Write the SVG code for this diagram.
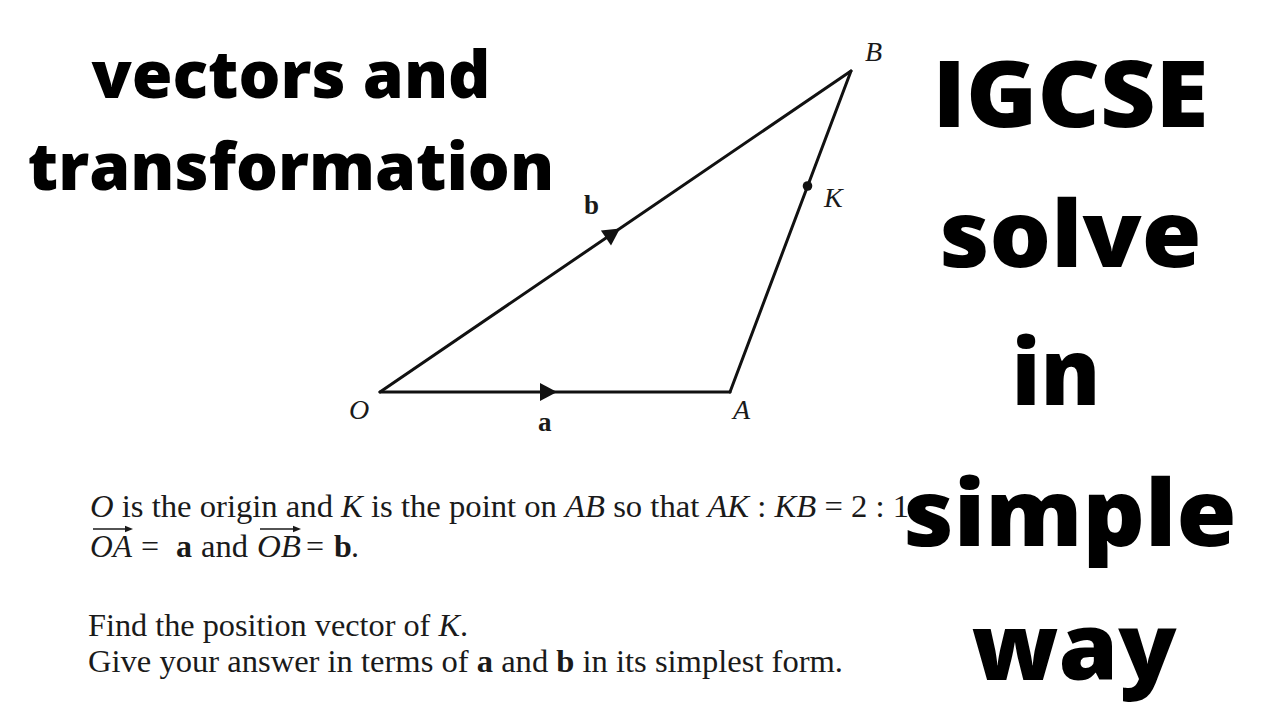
<svg xmlns="http://www.w3.org/2000/svg" xmlns:xlink="http://www.w3.org/1999/xlink" width="1280" height="720" viewBox="0 0 1280 720">
  <style>
    .title { font-family: "Open Sans", "Noto Sans", sans-serif; font-weight: 800; fill: #000; text-anchor: middle; }
    .big { font-size: 92px; }
    .mid { font-size: 66px; }
    .body { font-family: "Liberation Serif", "Times New Roman", serif; font-size: 32px; fill: #1a1a1a; }
    .lbl { font-family: "Liberation Serif", "Times New Roman", serif; font-size: 28px; fill: #1a1a1a; font-style: italic; }
    .vec { font-family: "Liberation Serif", "Times New Roman", serif; font-size: 27px; fill: #1a1a1a; font-weight: bold; }
    .it { font-style: italic; }
    .bd { font-weight: bold; }
    .edge { stroke: #111; stroke-width: 3; fill: none; stroke-linecap: round; stroke-linejoin: round; }
    .over { stroke: #1a1a1a; stroke-width: 1.5; fill: none; }
  </style>
  <defs>
    <path id="ah" d="M0,0 L-17,-9 L-17,9 Z" fill="#111"/>
    <path id="sah" d="M0,0 L-8,-3.2 L-8,3.2 Z" fill="#1a1a1a"/>
  </defs>
  <rect width="1280" height="720" fill="#fff"/>

  <!-- bottom question text (drawn first; title overlaps it) -->
  <g id="question">
    <text class="body" x="90" y="517" textLength="819" lengthAdjust="spacingAndGlyphs"><tspan class="it">O</tspan> is the origin and <tspan class="it">K</tspan> is the point on <tspan class="it">AB</tspan> so that <tspan class="it">AK</tspan> : <tspan class="it">KB</tspan> = 2 : 1</text>
    <text class="body" y="557"><tspan class="it" x="90" textLength="42" lengthAdjust="spacingAndGlyphs">OA</tspan><tspan x="141">=</tspan><tspan class="bd" x="176">a</tspan><tspan x="201" textLength="47" lengthAdjust="spacingAndGlyphs">and</tspan><tspan class="it" x="257" textLength="44" lengthAdjust="spacingAndGlyphs">OB</tspan><tspan x="306">=</tspan><tspan class="bd" x="334">b</tspan><tspan x="351">.</tspan></text>
    <line class="over" x1="93" y1="529" x2="128" y2="529"/>
    <use href="#sah" transform="translate(133,529)"/>
    <line class="over" x1="260" y1="529" x2="296" y2="529"/>
    <use href="#sah" transform="translate(301,529)"/>
    <text class="body" x="88" y="636" textLength="380" lengthAdjust="spacingAndGlyphs">Find the position vector of <tspan class="it">K</tspan>.</text>
    <text class="body" x="88" y="672" textLength="755" lengthAdjust="spacingAndGlyphs">Give your answer in terms of <tspan class="bd">a</tspan> and <tspan class="bd">b</tspan> in its simplest form.</text>
  </g>

  <!-- connectors -->
  <g id="connectors">
    <line id="OA" class="edge" x1="380" y1="392" x2="730" y2="392"/>
    <line id="OB" class="edge" x1="380" y1="392" x2="851" y2="71"/>
    <line id="AB" class="edge" x1="730" y1="392" x2="851" y2="71"/>
    <use href="#ah" transform="translate(557,392)"/>
    <use href="#ah" transform="translate(620,228.4) rotate(-34.27)"/>
    <text class="vec" x="538" y="431">a</text>
    <text class="vec" x="584" y="214">b</text>
  </g>

  <!-- nodes -->
  <g id="node-O"><text class="lbl" x="349" y="419">O</text></g>
  <g id="node-A"><text class="lbl" x="733" y="419">A</text></g>
  <g id="node-B"><text class="lbl" x="865" y="61">B</text></g>
  <g id="node-K">
    <circle cx="807.5" cy="186" r="4.8" fill="#111"/>
    <text class="lbl" x="824" y="207">K</text>
  </g>

  <!-- titles -->
  <g id="title-left">
    <text class="title mid" x="291" y="98">vectors and</text>
    <text class="title mid" x="291" y="190">transformation</text>
  </g>
  <g id="title-right">
    <text class="title big" x="1070.5" y="127" textLength="276" lengthAdjust="spacingAndGlyphs">IGCSE</text>
    <text class="title big" x="1070.5" y="267" textLength="262" lengthAdjust="spacingAndGlyphs">solve</text>
    <text class="title big" x="1056" y="405" textLength="89" lengthAdjust="spacingAndGlyphs">in</text>
    <text class="title big" x="1070" y="546" textLength="333" lengthAdjust="spacingAndGlyphs">simple</text>
    <text class="title big" x="1074" y="680" textLength="205" lengthAdjust="spacingAndGlyphs">way</text>
  </g>
</svg>
